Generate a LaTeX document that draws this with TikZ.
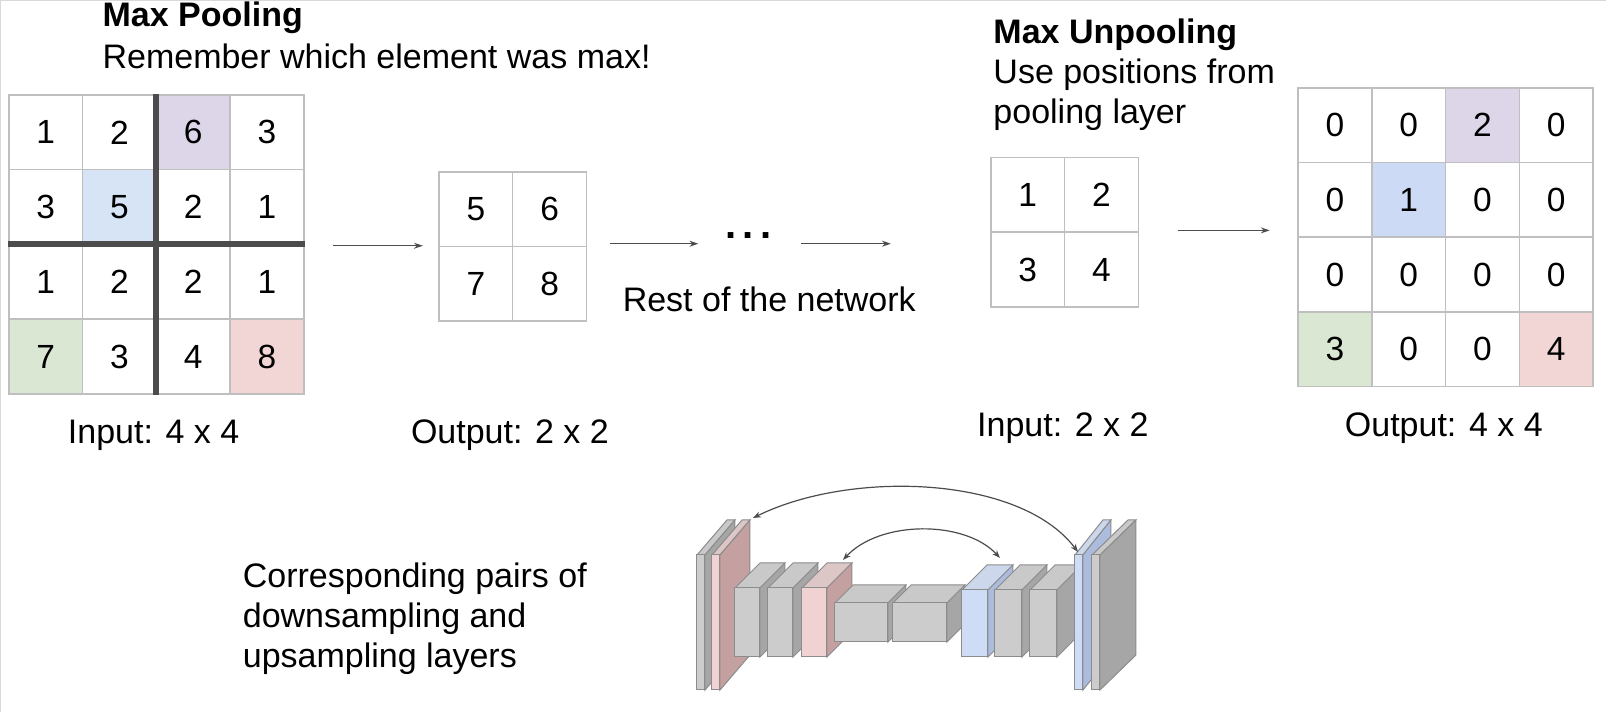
\documentclass[tikz,border=0pt]{standalone}
\usepackage{fontspec}
\setmainfont{Liberation Sans}
\usetikzlibrary{arrows.meta}
\begin{document}
\begin{tikzpicture}[x=1.024pt,y=-1.024pt,
  cell/.style={draw=black!25,line width=1.5pt,minimum width=73.7pt,minimum height=74.7pt,inner sep=0,font=\fontsize{33.5}{40}\selectfont,anchor=north west},
  lbl/.style={font=\fontsize{34}{40}\selectfont,inner sep=0},
  arr/.style={draw=black!70,line width=1.2pt,-{Stealth[length=9pt,width=6pt]}},
  barc/.style={draw=black!70,line width=1.2pt,{Stealth[length=8pt,width=6pt]}-{Stealth[length=8pt,width=6pt]}}]
\useasboundingbox (0,0) rectangle (1568.4,695.3);
\definecolor{cpur}{RGB}{220,214,232}\definecolor{cblu}{RGB}{214,228,245}
\definecolor{cgrn}{RGB}{218,232,211}\definecolor{cred}{RGB}{242,213,213}
\definecolor{cblu2}{RGB}{205,218,245}
% input 4x4
\foreach \r/\c/\v/\f in {0/0/1/white,0/1/2/white,0/2/6/cpur,0/3/3/white,1/0/3/white,1/1/5/cblu,1/2/2/white,1/3/1/white,2/0/1/white,2/1/2/white,2/2/2/white,2/3/1/white,3/0/7/cgrn,3/1/3/white,3/2/4/white,3/3/8/cred}
  \node[cell,fill=\f] (a\r\c) at (8+72*\c,92+73*\r) {\v};
\draw[black!70,line width=6pt] (a02.north west) -- (a32.south west);
\draw[black!70,line width=6pt] (a20.north west) -- (a23.north east);
% output 2x2
\foreach \r/\c/\v in {0/0/5,0/1/6,1/0/7,1/1/8}
  \node[cell] (b\r\c) at (428+72*\c,167+73*\r) {\v};
% unpool input
\foreach \r/\c/\v in {0/0/1,0/1/2,1/0/3,1/1/4}
  \node[cell] (c\r\c) at (967+72*\c,153+73*\r) {\v};
% unpool output
\foreach \r/\c/\v/\f in {0/0/0/white,0/1/0/white,0/2/2/cpur,0/3/0/white,1/0/0/white,1/1/1/cblu2,1/2/0/white,1/3/0/white,2/0/0/white,2/1/0/white,2/2/0/white,2/3/0/white,3/0/3/cgrn,3/1/0/white,3/2/0/white,3/3/4/cred}
  \node[cell,fill=\f] (d\r\c) at (1267+72*\c,85+73*\r) {\v};
% arrows
\coordinate (p1) at (325,240);\coordinate (p2) at (413,240);
\draw[arr] (p1) -- (p2);
\coordinate (p3) at (596,238);\coordinate (p4) at (682,238);
\draw[arr] (p3) -- (p4);
\node[lbl,font=\fontsize{40}{40}\selectfont\bfseries] (dots) at (731,230) {.\,.\,.};
\coordinate (p5) at (782,238);\coordinate (p6) at (870,238);
\draw[arr] (p5) -- (p6);
\coordinate (p7) at (1150,225);\coordinate (p8) at (1240,225);
\draw[arr] (p7) -- (p8);
% texts
\node[lbl,anchor=west] (t1) at (608,292) {Rest of the network};
\node[lbl,anchor=west,font=\fontsize{34}{40}\selectfont\bfseries] (t2) at (100,17) {Max Pooling};
\node[lbl,anchor=west] (t3) at (100,55) {Remember which element was max!};
\node[lbl,anchor=west,font=\fontsize{34}{40}\selectfont\bfseries] (t4) at (970,34) {Max Unpooling};
\node[lbl,anchor=west] (t5) at (970,73) {Use positions from};
\node[lbl,anchor=west] (t6) at (970,112) {pooling layer};
\node[lbl] (l1) at (150,425) {Input: 4 x 4};
\node[lbl] (l2) at (498,425) {Output: 2 x 2};
\node[lbl] (l3) at (1038,418) {Input: 2 x 2};
\node[lbl] (l4) at (1410,418) {Output: 4 x 4};
\node[lbl,anchor=west] (b1) at (237,565) {Corresponding pairs of};
\node[lbl,anchor=west] (b2) at (237,604) {downsampling and};
\node[lbl,anchor=west] (b3) at (237,643) {upsampling layers};
% cuboids: x1,y1,x2,y2,dx,dy,front,side
\newcommand\cub[8]{%
  \fill[#8!60!white,draw=black!45,line width=1pt] (#1,#2) -- ++(#5,#6) -- ++(#3-#1,0) -- (#3,#2) -- cycle;
  \fill[#8,draw=black!45,line width=1pt] (#3,#2) -- ++(#5,#6) -- ++(0,#4-#2) -- (#3,#4) -- cycle;
  \fill[#7,draw=black!45,line width=1pt] (#1,#2) rectangle (#3,#4);}
\colorlet{gf}{black!20}\colorlet{gs}{black!35}
\definecolor{pf}{RGB}{240,210,210}\definecolor{ps}{RGB}{196,160,160}
\definecolor{bf}{RGB}{206,220,245}\definecolor{bs}{RGB}{172,188,222}
\begin{scope}[x=1pt,y=-1pt]
\cub{697}{555}{705}{690}{30}{-35}{gf}{gs}
\cub{712}{555}{720}{690}{30}{-35}{pf}{ps}
\cub{735}{588}{760}{657}{25}{-25}{gf}{gs}
\cub{768}{588}{793}{657}{25}{-25}{gf}{gs}
\cub{802}{588}{827}{657}{25}{-25}{pf}{ps}
\cub{835}{603}{888}{642}{18}{-18}{gf}{gs}
\cub{893}{603}{947}{642}{18}{-18}{gf}{gs}
\cub{962}{590}{988}{657}{25}{-25}{bf}{bs}
\cub{995}{590}{1022}{657}{25}{-25}{gf}{gs}
\cub{1030}{590}{1057}{657}{25}{-25}{gf}{gs}
\cub{1075}{555}{1083}{690}{28}{-35}{bf}{bs}
\cub{1092}{555}{1100}{690}{36}{-35}{gf}{gs}
\coordinate (u1) at (753,518);\coordinate (u2) at (1078,552);
\draw[barc] (u1) .. controls (850,470) and (1020,475) .. (u2);
\coordinate (v1) at (843,560);\coordinate (v2) at (1000,558);
\draw[barc] (v1) .. controls (880,520) and (965,520) .. (v2);
\end{scope}
\draw[black!15] (0,0) rectangle (1568.4,695.3);
\end{tikzpicture}
\end{document}
